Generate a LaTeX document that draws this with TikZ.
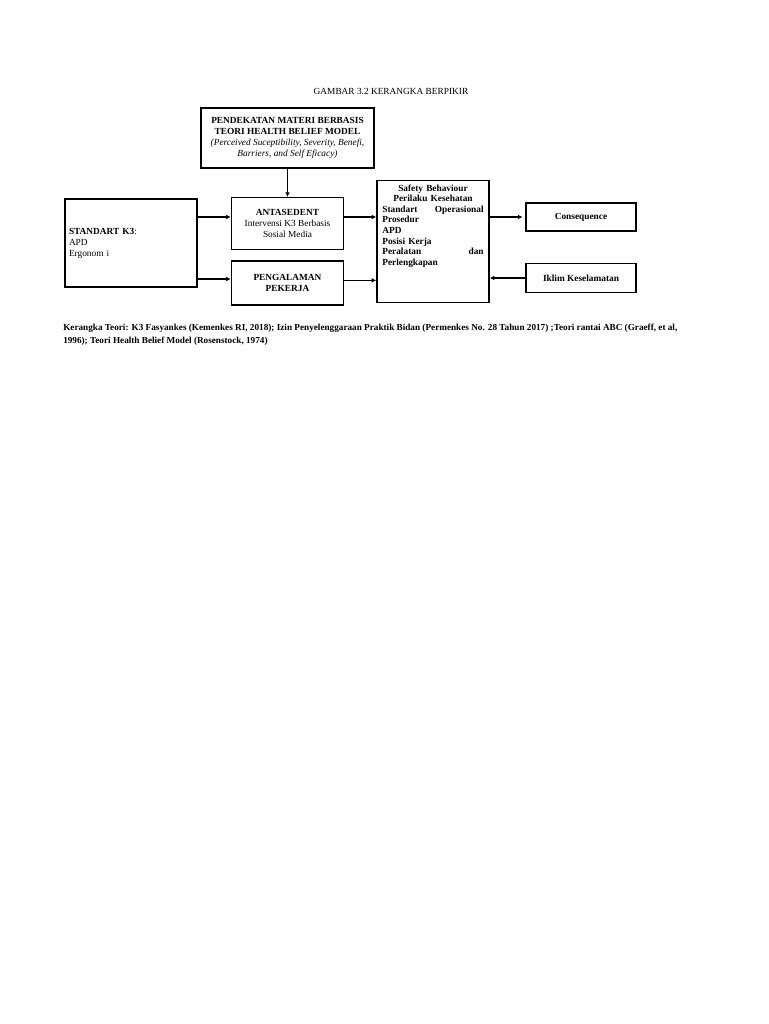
\documentclass[tikz,border=0pt]{standalone}
\usepackage{fontspec}
\setmainfont{Liberation Serif}
\usetikzlibrary{positioning}
\usetikzlibrary{arrows.meta}
\tikzset{>={Latex[width=3.5pt,length=3.5pt]}}

\begin{document}
\begin{tikzpicture}[x=0.75pt, y=-0.75pt, box/.style={draw=black, line width=1pt, inner sep=2pt, align=center, font=\fontsize{7}{8.2}\selectfont}, thickbox/.style={box, line width=1.5pt}, emptynode/.style={draw=none, fill=none, inner sep=0pt}, link/.style={->, line width=1pt}]
    \useasboundingbox (0,0) rectangle (768,1024);

    %Nodes
    \node[emptynode, font=\fontsize{7}{8}\selectfont](title) at (391,91){GAMBAR 3.2 KERANGKA BERPIKIR};
    \node[thickbox, minimum width=129.75pt, minimum height=45pt](materi) at (287.5,138){\textbf{PENDEKATAN MATERI BERBASIS}\\\textbf{TEORI HEALTH BELIEF MODEL}\\\textit{(Perceived Suceptibility, Severity, Benefi,}\\\textit{Barriers, and Self Eficacy)}};
    \node[box, minimum width=84pt, minimum height=39pt](antasedent)[below=21pt of materi]{\textbf{ANTASEDENT}\\Intervensi K3 Berbasis\\Sosial Media};
    \node[box, minimum width=84pt, minimum height=33pt](pengalaman)[below=7.5pt of antasedent]{\textbf{PENGALAMAN}\\\textbf{PEKERJA}};
    \node[box, align=left, text width=93pt, inner xsep=3pt, minimum height=66pt](standart) at (131,243){\textbf{STANDART K3}:\\APD\\Ergonom i};
    \node[box, minimum width=84pt, minimum height=91.5pt](safety) at (433,241.5){};
    \node[emptynode, align=left, text width=76pt, font=\fontsize{7}{7.9}\selectfont\bfseries](safety_text)[below=3.5pt of safety.north]{\hfil Safety Behaviour\hfil\\\hfil Perilaku Kesehatan\hfil\\Standart\hfill Operasional\\Prosedur\\APD\\Posisi Kerja\\Peralatan\hfill dan\\Perlengkapan};
    \node[box, minimum width=82.5pt, minimum height=21pt](consequence) at (581,217){\textbf{Consequence}};
    \node[box, minimum width=82.5pt, minimum height=21.75pt](iklim) at (581,278){\textbf{Iklim Keselamatan}};
    \node[emptynode, anchor=north west, align=left, font=\fontsize{6.9}{9.75}\selectfont\bfseries](footnote) at (63,323.5){Kerangka Teori: K3 Fasyankes (Kemenkes RI, 2018); Izin Penyelenggaraan Praktik Bidan (Permenkes No. 28 Tahun 2017) ;Teori rantai ABC (Graeff, et al,\\1996); Teori Health Belief Model (Rosenstock, 1974)};

    \coordinate (ant_in) at ([yshift=5pt]antasedent.west);
    \coordinate (peng_in) at ([yshift=3pt]pengalaman.west);
    \coordinate (ant_out) at ([yshift=5pt]antasedent.east);
    \coordinate (peng_out) at ([yshift=2pt]pengalaman.east);

    %Lines
    \draw[link] (materi.south) -- (antasedent.north);
    \draw[link] (standart.east |- ant_in) -- (ant_in);
    \draw[link] (standart.east |- peng_in) -- (peng_in);
    \draw[link] (ant_out) -- (safety.west |- ant_out);
    \draw[link] (peng_out) -- (safety.west |- peng_out);
    \draw[link, shorten >=2pt] (safety.east |- consequence.west) -- (consequence.west);
    \draw[link] (iklim.west) -- (safety.east |- iklim.west);

\end{tikzpicture}
\end{document}
